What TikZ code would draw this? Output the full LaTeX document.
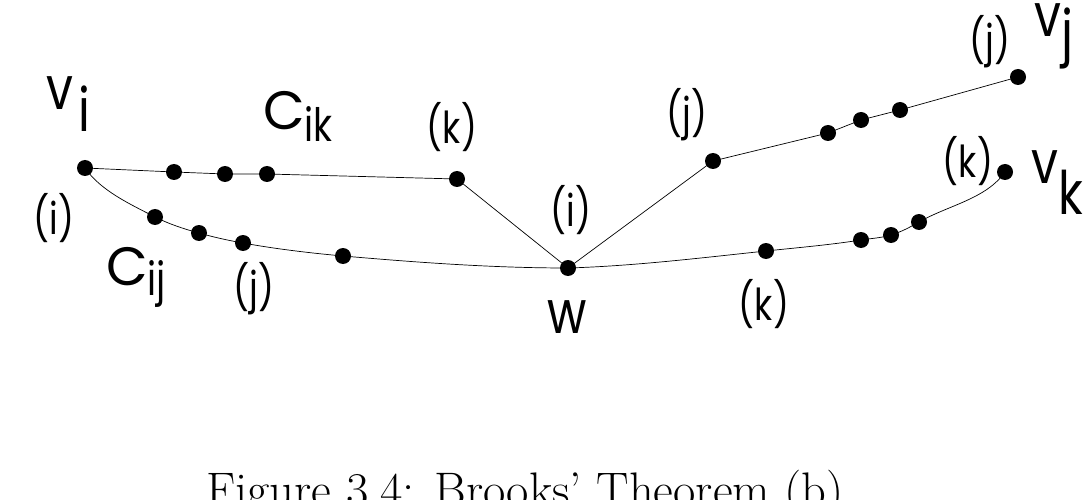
\documentclass[tikz,border=0pt]{standalone}
\usepackage{fontspec}
\newfontfamily\labfont[FakeStretch=0.8]{Poppins}
\newfontfamily\cfont{Poppins}
\begin{document}
\begin{tikzpicture}[x=1pt,y=-1pt,
  dot/.style={circle,fill=black,inner sep=0pt,minimum size=16pt},
  edge/.style={line width=0.7pt},
  paren/.style={inner sep=0pt,font=\labfont\fontsize{44}{44}\selectfont},
  big/.style={inner sep=0pt,anchor=base west,font=\labfont\fontsize{60}{60}\selectfont},
  cee/.style={inner sep=0pt,anchor=base west,font=\cfont\fontsize{54}{54}\selectfont},
]
\useasboundingbox (0,0) rectangle (1085,500);
% vertices
\node[dot] (vi) at (85,168) {};
\node[dot] (p1) at (174,172) {};
\node[dot] (p2) at (225,174) {};
\node[dot] (p3) at (267,174) {};
\node[dot] (k1) at (457,179) {};
\node[dot] (w)  at (568,268) {};
\node[dot] (q1) at (155,217) {};
\node[dot] (q2) at (199,233) {};
\node[dot] (q3) at (243,243) {};
\node[dot] (q4) at (343,256) {};
\node[dot] (j1) at (713,161) {};
\node[dot] (r1) at (828,133) {};
\node[dot] (r2) at (861,120) {};
\node[dot] (r3) at (900,110) {};
\node[dot] (vj) at (1018,77) {};
\node[dot] (s1) at (766,251) {};
\node[dot] (s2) at (861,240) {};
\node[dot] (s3) at (891,235) {};
\node[dot] (s4) at (919,222) {};
\node[dot] (vk) at (1005,172) {};
% edges
\draw[edge] (vi.center) -- (p1.center) -- (p2.center) -- (p3.center) -- (k1.center) -- (w.center)
  -- (j1.center) -- (r1.center) -- (r2.center) -- (r3.center) -- (vj.center);
\draw[edge] (vi.center)
  .. controls +(16,23) and +(-25,-13) .. (q1.center)
  .. controls +(14,7) and +(-15,-4) .. (q2.center)
  .. controls +(14,4) and +(-15,-2.6) .. (q3.center)
  .. controls +(33,6) and +(-33,-3) .. (q4.center)
  .. controls +(75,6.5) and +(-75,0) .. (w.center)
  .. controls +(66,-2) and +(-66,7) .. (s1.center)
  .. controls +(32,-3.4) and +(-32,5) .. (s2.center)
  .. controls +(10,-1.6) and +(-10,3) .. (s3.center)
  .. controls +(10,-3) and +(-9,5.2) .. (s4.center)
  .. controls +(30,-17) and +(-19,27) .. (vk.center);
% labels
\node[big] (lvi) at (46,110) {v\hspace{5pt}\raisebox{-22pt}{i}};
\node[big] (lvj) at (1034,37) {v\raisebox{-17pt}{j}};
\node[big] (lvk) at (1031,183) {v\raisebox{-32pt}{k}};
\node[big,anchor=base] (lw) at (567,333) {w};
\node[cee] (lcik) at (263,130) {C\raisebox{-12pt}{\labfont\fontsize{46}{46}\selectfont ik}};
\node[cee] (lcij) at (106,285) {C\raisebox{-10pt}{\labfont\fontsize{46}{46}\selectfont ij}};
\node[paren] (li1) at (54,218) {(i)};
\node[paren] (lj1) at (254,289) {(j)};
\node[paren] (lk1) at (452,127) {(k)};
\node[paren] (li2) at (571,210) {(i)};
\node[paren] (lk2) at (764,304) {(k)};
\node[paren] (lj2) at (687,115) {(j)};
\node[paren] (lj3) at (990,42) {(j)};
\node[paren] (lk3) at (968,161) {(k)};
% caption (cut by the page edge)
\node[anchor=base west,inner sep=0pt,font=\fontsize{48.5}{50}\selectfont] (cap) at (206,506) {Figure 3.4: Brooks' Theorem (b)};
\end{tikzpicture}
\end{document}
